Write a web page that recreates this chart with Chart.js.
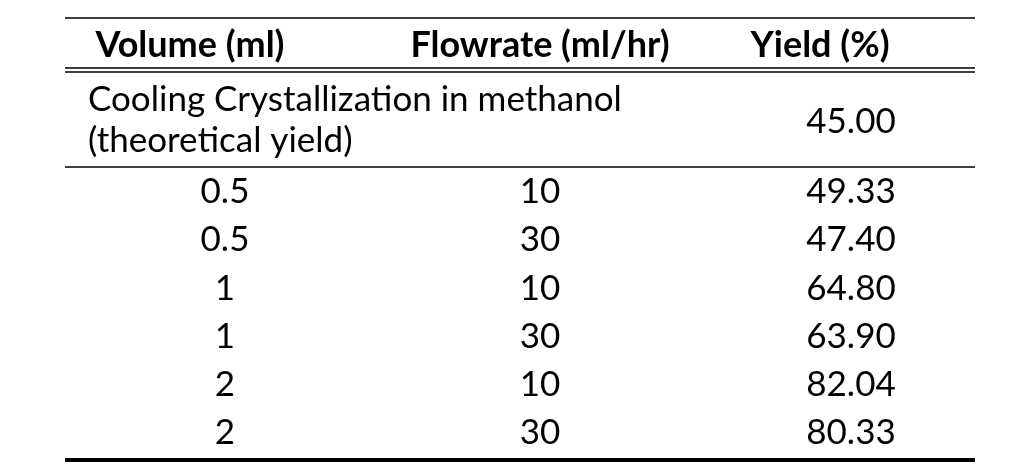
<!DOCTYPE html>
<html>
<head>
<title>Yield table</title>
<script src="https://cdn.jsdelivr.net/npm/chart.js"></script>
<style>html,body{margin:0;background:#fff}#wrap{width:1024px;height:476px}</style>
</head>
<body>
<div id="wrap"><canvas id="chart"></canvas></div>
<script>
const headers = ['Volume (ml)', 'Flowrate (ml/hr)', 'Yield (%)'];
const refLabel = ['Cooling Crystallization in methanol', '(theoretical yield)'];
const refYield = '45.00';
const volumes = ['0.5', '0.5', '1', '1', '2', '2'];
const flowrates = ['10', '30', '10', '30', '10', '30'];
const yields = ['49.33', '47.40', '64.80', '63.90', '82.04', '80.33'];

// layout in scale units (x: 0..1024, y: 0..476 top-down)
const colX = [225, 540, 851];
const headX = [190, 540, 820];
const rowY = [192, 240, 289, 337, 385, 433];
const font = '35px Lato, "Open Sans", sans-serif';
const bold = 'bold 36px Lato, "Open Sans", sans-serif';

const tablePlugin = {
  id: 'table',
  afterDraw(chart) {
    const { ctx, scales: { x, y } } = chart;
    const X = v => x.getPixelForValue(v), Y = v => y.getPixelForValue(v);
    const hline = (yy, w) => {
      ctx.beginPath(); ctx.lineWidth = w; ctx.strokeStyle = '#000';
      ctx.moveTo(X(65), Y(yy)); ctx.lineTo(X(975), Y(yy)); ctx.stroke();
    };
    ctx.save();
    hline(18, 1.5); hline(68, 1.5); hline(72, 1.5); hline(167, 1.5); hline(460, 4);
    ctx.fillStyle = '#000'; ctx.textBaseline = 'middle'; ctx.textAlign = 'center';
    ctx.font = bold;
    headers.forEach((h, i) => ctx.fillText(h, X(headX[i]), Y(45)));
    ctx.font = font;
    ctx.textAlign = 'left';
    ctx.fillText(refLabel[0], X(88), Y(100));
    ctx.fillText(refLabel[1], X(88), Y(141));
    ctx.textAlign = 'center';
    ctx.fillText(refYield, X(colX[2]), Y(122));
    rowY.forEach((ry, i) => {
      ctx.fillText(volumes[i], X(colX[0]), Y(ry));
      ctx.fillText(flowrates[i], X(colX[1]), Y(ry));
      ctx.fillText(yields[i], X(colX[2]), Y(ry));
    });
    ctx.restore();
  }
};

new Chart(document.getElementById('chart'), {
  type: 'scatter',
  data: { datasets: [{ data: [] }] },
  options: {
    responsive: true, maintainAspectRatio: false, animation: false,
    layout: { padding: 0 },
    plugins: { legend: { display: false }, tooltip: { enabled: false } },
    scales: {
      x: { type: 'linear', min: 0, max: 1024, display: false },
      y: { type: 'linear', min: 0, max: 476, reverse: true, display: false }
    }
  },
  plugins: [tablePlugin]
});
</script>
</body>
</html>
